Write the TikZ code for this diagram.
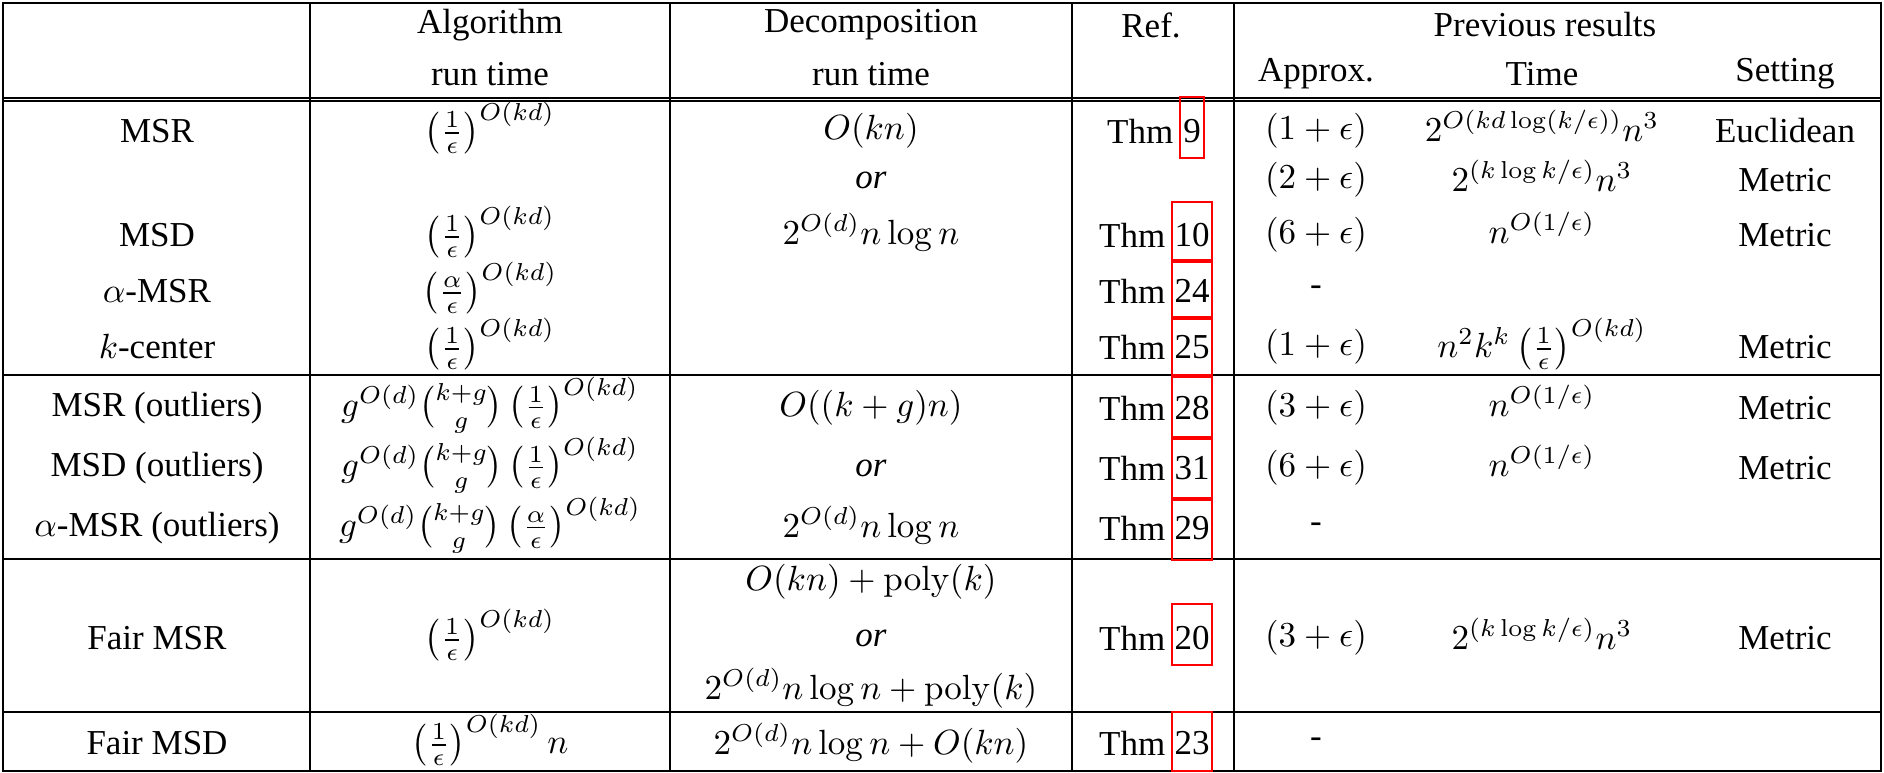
\documentclass[tikz,border=0pt]{standalone}
\usepackage{amsmath}
\usepackage[no-math]{fontspec}
\newfontfamily\tms{Liberation Serif}
\begin{document}
\begin{tikzpicture}[x=1pt,y=-1pt,
  tx/.style={inner sep=0pt,font=\tms\fontsize{10}{12}\selectfont,scale=3.5,transform shape},
  rl/.style={line width=1.6pt,black},
  rb/.style={draw=red,line width=2.6pt}]
\useasboundingbox (0,0) rectangle (1884,773);
% grid
\draw[rl] (3,3) rectangle (1881,771);
\foreach \y in {98,375,559,712} \draw[rl] (3,\y) -- (1881,\y);
\draw[rl] (3,101) -- (1881,101);
\foreach \x in {310,670,1072,1234} \draw[rl] (\x,3) -- (\x,771);
% header
\node[tx] (h1) at (490,25) {Algorithm};
\node[tx] (h2) at (490,74) {run time};
\node[tx] (h3) at (871,25) {Decomposition};
\node[tx] (h4) at (871,74) {run time};
\node[tx] (h5) at (1151,25) {Ref.};
\node[tx] (h6) at (1545,25) {Previous results};
\node[tx] (h7) at (1316,74) {Approx.};
\node[tx] (h8) at (1542,74) {Time};
\node[tx] (h9) at (1785,74) {Setting};
% column 1
\node[tx] (r1) at (157,131) {MSR};
\node[tx] (r3) at (157,235) {MSD};
\node[tx] (r4) at (157,291) {$\alpha$-MSR};
\node[tx] (r5) at (157,347) {$k$-center};
\node[tx] (r6) at (157,408) {MSR (outliers)};
\node[tx] (r7) at (157,468) {MSD (outliers)};
\node[tx] (r8) at (157,528) {$\alpha$-MSR (outliers)};
\node[tx] (r9) at (157,638) {Fair MSR};
\node[tx] (r10) at (157,743) {Fair MSD};
% column 2
\node[tx] (a1) at (490,128) {$\left(\frac{1}{\epsilon}\right)^{O(kd)}$};
\node[tx] (a3) at (490,232) {$\left(\frac{1}{\epsilon}\right)^{O(kd)}$};
\node[tx] (a4) at (490,288) {$\left(\frac{\alpha}{\epsilon}\right)^{O(kd)}$};
\node[tx] (a5) at (490,344) {$\left(\frac{1}{\epsilon}\right)^{O(kd)}$};
\node[tx] (a6) at (490,405) {$g^{O(d)}\binom{k+g}{g}\left(\frac{1}{\epsilon}\right)^{O(kd)}$};
\node[tx] (a7) at (490,465) {$g^{O(d)}\binom{k+g}{g}\left(\frac{1}{\epsilon}\right)^{O(kd)}$};
\node[tx] (a8) at (490,525) {$g^{O(d)}\binom{k+g}{g}\left(\frac{\alpha}{\epsilon}\right)^{O(kd)}$};
\node[tx] (a9) at (490,635) {$\left(\frac{1}{\epsilon}\right)^{O(kd)}$};
\node[tx] (a10) at (490,740) {$\left(\frac{1}{\epsilon}\right)^{O(kd)}n$};
% column 3
\node[tx] (d1) at (871,131) {$O(kn)$};
\node[tx] (d2) at (871,180) {\textit{or}};
\node[tx] (d3) at (871,232) {$2^{O(d)}n\log n$};
\node[tx] (d6) at (871,408) {$O((k+g)n)$};
\node[tx] (d7) at (871,468) {\textit{or}};
\node[tx] (d8) at (871,525) {$2^{O(d)}n\log n$};
\node[tx] (d9) at (871,582) {$O(kn)+\mathrm{poly}(k)$};
\node[tx] (d10) at (871,638) {\textit{or}};
\node[tx] (d11) at (871,688) {$2^{O(d)}n\log n+\mathrm{poly}(k)$};
\node[tx] (d12) at (871,743) {$2^{O(d)}n\log n+O(kn)$};
% ref column
\foreach \n/\y/\num/\xa/\xb/\ya/\yb in {t1/131/9/1180/1204/97/158, t3/235/10/1172/1212/202/260, t4/291/24/1172/1212/262/317, t5/347/25/1172/1212/319/375, t6/408/28/1172/1212/377/437, t7/468/31/1172/1212/439/498, t8/528/29/1172/1212/500/560, t9/638/20/1172/1212/604/665, t10/743/23/1172/1212/712/771}{
  \node[tx,anchor=east] (\n) at (\xa-6,\y) {Thm};
  \draw[rb] (\xa,\ya) rectangle (\xb,\yb);
  \node[tx] (\n n) at ({(\xa+\xb)/2},\y) {\num};
}
% previous results
\node[tx] (p1) at (1316,131) {$(1+\epsilon)$};
\node[tx] (p2) at (1316,180) {$(2+\epsilon)$};
\node[tx] (p3) at (1316,235) {$(6+\epsilon)$};
\node[tx] (p4) at (1316,291) {-};
\node[tx] (p5) at (1316,347) {$(1+\epsilon)$};
\node[tx] (p6) at (1316,408) {$(3+\epsilon)$};
\node[tx] (p7) at (1316,468) {$(6+\epsilon)$};
\node[tx] (p8) at (1316,528) {-};
\node[tx] (p9) at (1316,638) {$(3+\epsilon)$};
\node[tx] (p10) at (1316,743) {-};
\node[tx] (q1) at (1542,126) {$2^{O(kd\log(k/\epsilon))}n^3$};
\node[tx] (q2) at (1542,176) {$2^{(k\log k/\epsilon)}n^3$};
\node[tx] (q3) at (1542,228) {$n^{O(1/\epsilon)}$};
\node[tx] (q5) at (1542,344) {$n^2k^k\left(\frac{1}{\epsilon}\right)^{O(kd)}$};
\node[tx] (q6) at (1542,401) {$n^{O(1/\epsilon)}$};
\node[tx] (q7) at (1542,461) {$n^{O(1/\epsilon)}$};
\node[tx] (q9) at (1542,634) {$2^{(k\log k/\epsilon)}n^3$};
\node[tx] (s1) at (1785,131) {Euclidean};
\node[tx] (s2) at (1785,180) {Metric};
\node[tx] (s3) at (1785,235) {Metric};
\node[tx] (s5) at (1785,347) {Metric};
\node[tx] (s6) at (1785,408) {Metric};
\node[tx] (s7) at (1785,468) {Metric};
\node[tx] (s9) at (1785,638) {Metric};
\end{tikzpicture}
\end{document}
